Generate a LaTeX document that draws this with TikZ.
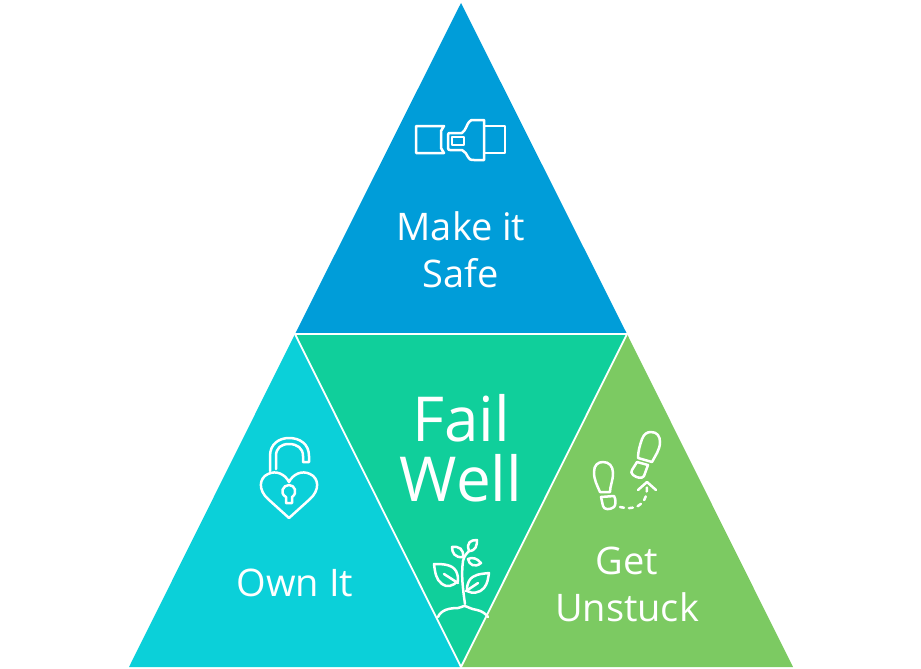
\documentclass[tikz,border=0pt]{standalone}
\usepackage{fontspec}
\setmainfont{Open Sans}
\usetikzlibrary{arrows.meta}
\definecolor{safeblue}{HTML}{009DD9}
\definecolor{owncyan}{HTML}{0BD0D9}
\definecolor{failgreen}{HTML}{10CF9B}
\definecolor{stuckgreen}{HTML}{7CCA62}
\tikzset{
  face/.style={draw=white, line width=1.8pt, line join=miter},
  icon/.style={draw=white, line width=2.5pt, line join=round, line cap=round},
  label/.style={text=white, align=center, font=\fontsize{38}{47}\selectfont},
  biglabel/.style={text=white, align=center, font=\fontsize{62}{60}\selectfont}
}
\begin{document}
\begin{tikzpicture}[x=1pt, y=-1pt]
\useasboundingbox (0,0) rectangle (921,669);
\coordinate (apex) at (461,3);
\coordinate (midL) at (295,334);
\coordinate (midR) at (627,334);
\coordinate (baseL) at (129,667);
\coordinate (baseM) at (461,667);
\coordinate (baseR) at (793,667);
% four triangles
\path [fill=safeblue] (apex) -- (midR) -- (midL) -- cycle;
\path [fill=owncyan] (midL) -- (baseM) -- (baseL) -- cycle;
\path [fill=stuckgreen] (midR) -- (baseR) -- (baseM) -- cycle;
\path [face, fill=failgreen] (midL) -- (midR) -- (baseM) -- cycle;
% labels
\node [label] (safe) at (461,250) {Make it\\Safe};
\node [label] (own) at (295,583) {Own It};
\node [label] (stuck) at (627,584) {Get\\Unstuck};
\node [biglabel] (fail) at (461,448) {Fail\\Well};
% belt
\draw [icon] (416,126) -- (444,126) -- (441,131) -- (441,148) -- (444,153) -- (416,153) -- cycle;
\draw [icon] (448,135) .. controls (448,133) and (449,133) .. (450,133) -- (462,133)
  .. controls (466,130) and (467,124) .. (469,122) .. controls (470,120) and (472,120) .. (474,120)
  -- (484,120) -- (484,160) -- (474,160) .. controls (470,160) and (469,159) .. (468,157)
  .. controls (467,154) and (465,152) .. (462,150) -- (450,150)
  .. controls (449,150) and (448,150) .. (448,148) -- cycle;
\draw [icon] (452,137) rectangle (464,145);
\draw [icon] (484,126) -- (505,126) -- (505,153) -- (484,153);
% lock
\draw [icon] (289,518) -- (268,499) .. controls (258,490) and (259,478) .. (268,474)
  .. controls (276,470) and (285,474) .. (289,482)
  .. controls (293,474) and (302,470) .. (310,474)
  .. controls (319,478) and (320,490) .. (310,499) -- cycle;
\draw [icon] (270,471) -- (270,456) .. controls (270,444) and (279,438) .. (289,438)
  .. controls (300,438) and (309,444) .. (309,456) -- (309,462) -- (303,462) -- (303,456)
  .. controls (303,448) and (297,444) .. (289,444)
  .. controls (281,444) and (276,448) .. (276,456) -- (276,469);
\draw [icon] (286,497) .. controls (279,493) and (283,485) .. (289,485)
  .. controls (295,485) and (298,493) .. (292,497) -- (292,503) -- (286,503) -- cycle;
% steps
\draw [icon] (600,492) .. controls (597,485) and (594,480) .. (594,472)
  .. controls (594,465) and (598,462) .. (603,462)
  .. controls (609,462) and (613,466) .. (613,473)
  .. controls (613,481) and (610,486) .. (610,492) -- cycle;
\draw [icon] (601,497) -- (614,496) .. controls (616,499) and (616,505) .. (614,507)
  .. controls (610,510) and (604,510) .. (603,506) -- cycle;
\draw [icon] (651,432) .. controls (657,432) and (660,436) .. (660,442)
  .. controls (660,450) and (655,456) .. (652,462) -- (638,458)
  .. controls (638,451) and (640,445) .. (642,439)
  .. controls (644,434) and (647,432) .. (651,432) -- cycle;
\draw [icon] (637,462) -- (648,465) -- (644,476) .. controls (642,479) and (637,478) .. (633,475)
  .. controls (631,473) and (631,472) .. (632,470) -- cycle;
\draw [icon, dash pattern=on 4pt off 5pt] (620,507) .. controls (632,510) and (647,508) .. (647,487);
\draw [icon] (638,490) -- (647,482) -- (656,490);
% plant
\draw [icon] (438,617) .. controls (441,610) and (449,608) .. (458,608)
  .. controls (461,608) and (462,606) .. (464,606)
  .. controls (467,606) and (470,609) .. (477,610)
  .. controls (482,611) and (486,614) .. (488,617);
\draw [icon] (465,604) .. controls (463,590) and (461,575) .. (463,561) .. controls (464,556) and (467,553) .. (469,551);
\draw [icon] (434,564) .. controls (442,564) and (452,564) .. (456,571)
  .. controls (458,575) and (458,578) .. (458,581)
  .. controls (453,586) and (447,588) .. (442,584)
  .. controls (436,580) and (435,572) .. (434,564) -- cycle;
\draw [icon] (444,574) -- (458,583);
\draw [icon] (489,573) .. controls (481,574) and (473,574) .. (469,581)
  .. controls (467,585) and (467,588) .. (467,591)
  .. controls (472,594) and (480,593) .. (484,588)
  .. controls (488,583) and (488,578) .. (489,573) -- cycle;
\draw [icon] (478,583) -- (466,591);
\draw [icon] (477,540) .. controls (471,540) and (466,542) .. (469,551)
  .. controls (476,551) and (477,545) .. (477,540) -- cycle;
\draw [icon] (452,547) .. controls (459,546) and (464,549) .. (463,557)
  .. controls (455,558) and (452,553) .. (452,547) -- cycle;
\draw [icon] (481,563) .. controls (477,558) and (472,557) .. (468,559)
  .. controls (469,565) and (475,568) .. (481,563) -- cycle;
\end{tikzpicture}
\end{document}
